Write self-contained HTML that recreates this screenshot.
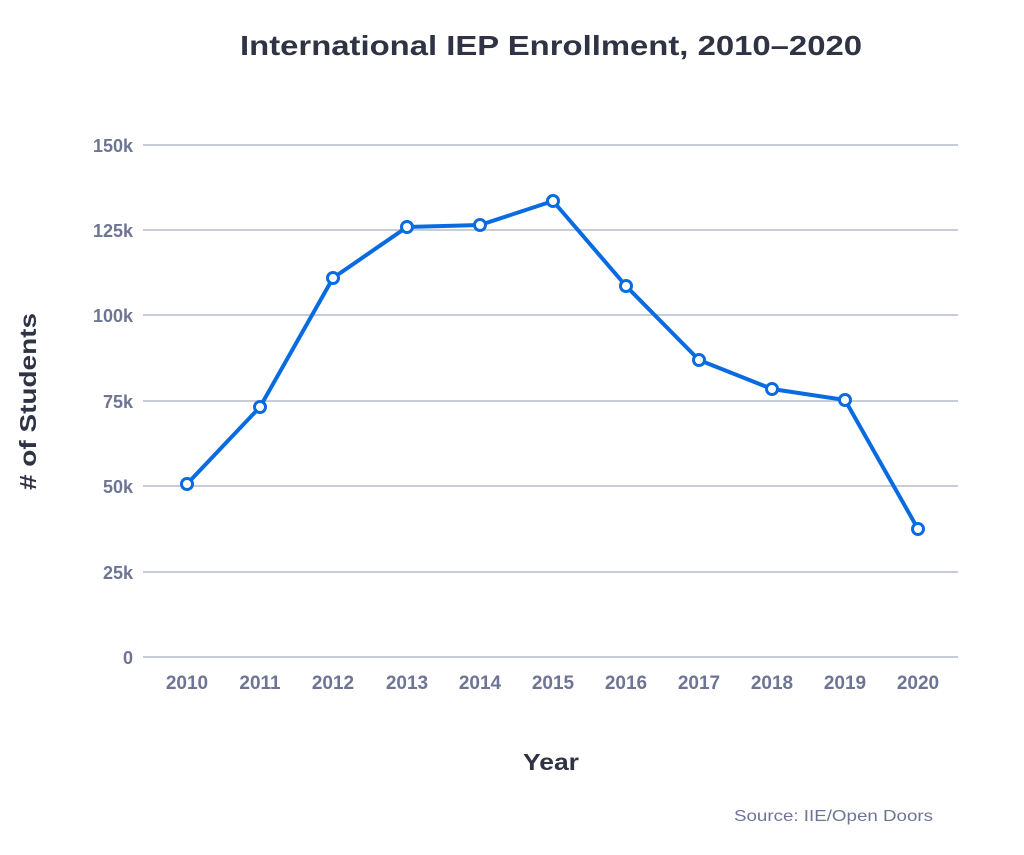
<!DOCTYPE html>
<html><head><meta charset="utf-8"><style>
html,body{margin:0;padding:0;background:#fff;}
svg{display:block;font-family:"Liberation Sans",sans-serif;}
</style></head><body>
<svg width="1024" height="855" viewBox="0 0 1024 855">
<rect width="1024" height="855" fill="#fff"/>
<text x="240" y="55" font-size="28" fill="#2f3344" font-weight="bold" textLength="622" lengthAdjust="spacingAndGlyphs">International IEP Enrollment, 2010–2020</text>
<g stroke="#c8ccd8" stroke-width="2">
<line x1="143" x2="958" y1="145" y2="145"/>
<line x1="143" x2="958" y1="230" y2="230"/>
<line x1="143" x2="958" y1="315" y2="315"/>
<line x1="143" x2="958" y1="401" y2="401"/>
<line x1="143" x2="958" y1="486" y2="486"/>
<line x1="143" x2="958" y1="572" y2="572"/>
<line x1="143" x2="958" y1="657" y2="657"/>
</g>
<g font-size="18" fill="#6e7594" text-anchor="end" font-weight="bold">
<text x="133" y="152">150k</text>
<text x="133" y="237">125k</text>
<text x="133" y="322">100k</text>
<text x="133" y="408">75k</text>
<text x="133" y="493">50k</text>
<text x="133" y="579">25k</text>
<text x="133" y="664">0</text>
</g>
<g font-size="19" fill="#6e7594" text-anchor="middle" font-weight="bold">
<text x="187" y="689">2010</text><text x="260" y="689">2011</text><text x="333" y="689">2012</text>
<text x="407" y="689">2013</text><text x="480" y="689">2014</text><text x="553" y="689">2015</text>
<text x="626" y="689">2016</text><text x="699" y="689">2017</text><text x="772" y="689">2018</text>
<text x="845" y="689">2019</text><text x="918" y="689">2020</text>
</g>
<text x="523" y="770" font-size="23" fill="#2f3344" font-weight="bold" textLength="56" lengthAdjust="spacingAndGlyphs">Year</text>
<text transform="translate(36,490) rotate(-90)" font-size="23" fill="#2f3344" font-weight="bold" textLength="177" lengthAdjust="spacingAndGlyphs"># of Students</text>
<text x="734" y="821" font-size="16" fill="#6e7594" textLength="199" lengthAdjust="spacingAndGlyphs">Source: IIE/Open Doors</text>
<polyline fill="none" stroke="#0a6be0" stroke-width="4" stroke-linejoin="round" points="187,484 260,407 333,278 407,227 480,225 553,201 626,286 699,360 772,389 845,400 918,529"/>
<g fill="#fff" stroke="#0a6be0" stroke-width="3">
<circle cx="187" cy="484" r="5.5"/><circle cx="260" cy="407" r="5.5"/><circle cx="333" cy="278" r="5.5"/>
<circle cx="407" cy="227" r="5.5"/><circle cx="480" cy="225" r="5.5"/><circle cx="553" cy="201" r="5.5"/>
<circle cx="626" cy="286" r="5.5"/><circle cx="699" cy="360" r="5.5"/><circle cx="772" cy="389" r="5.5"/>
<circle cx="845" cy="400" r="5.5"/><circle cx="918" cy="529" r="5.5"/>
</g>
</svg>
</body></html>
